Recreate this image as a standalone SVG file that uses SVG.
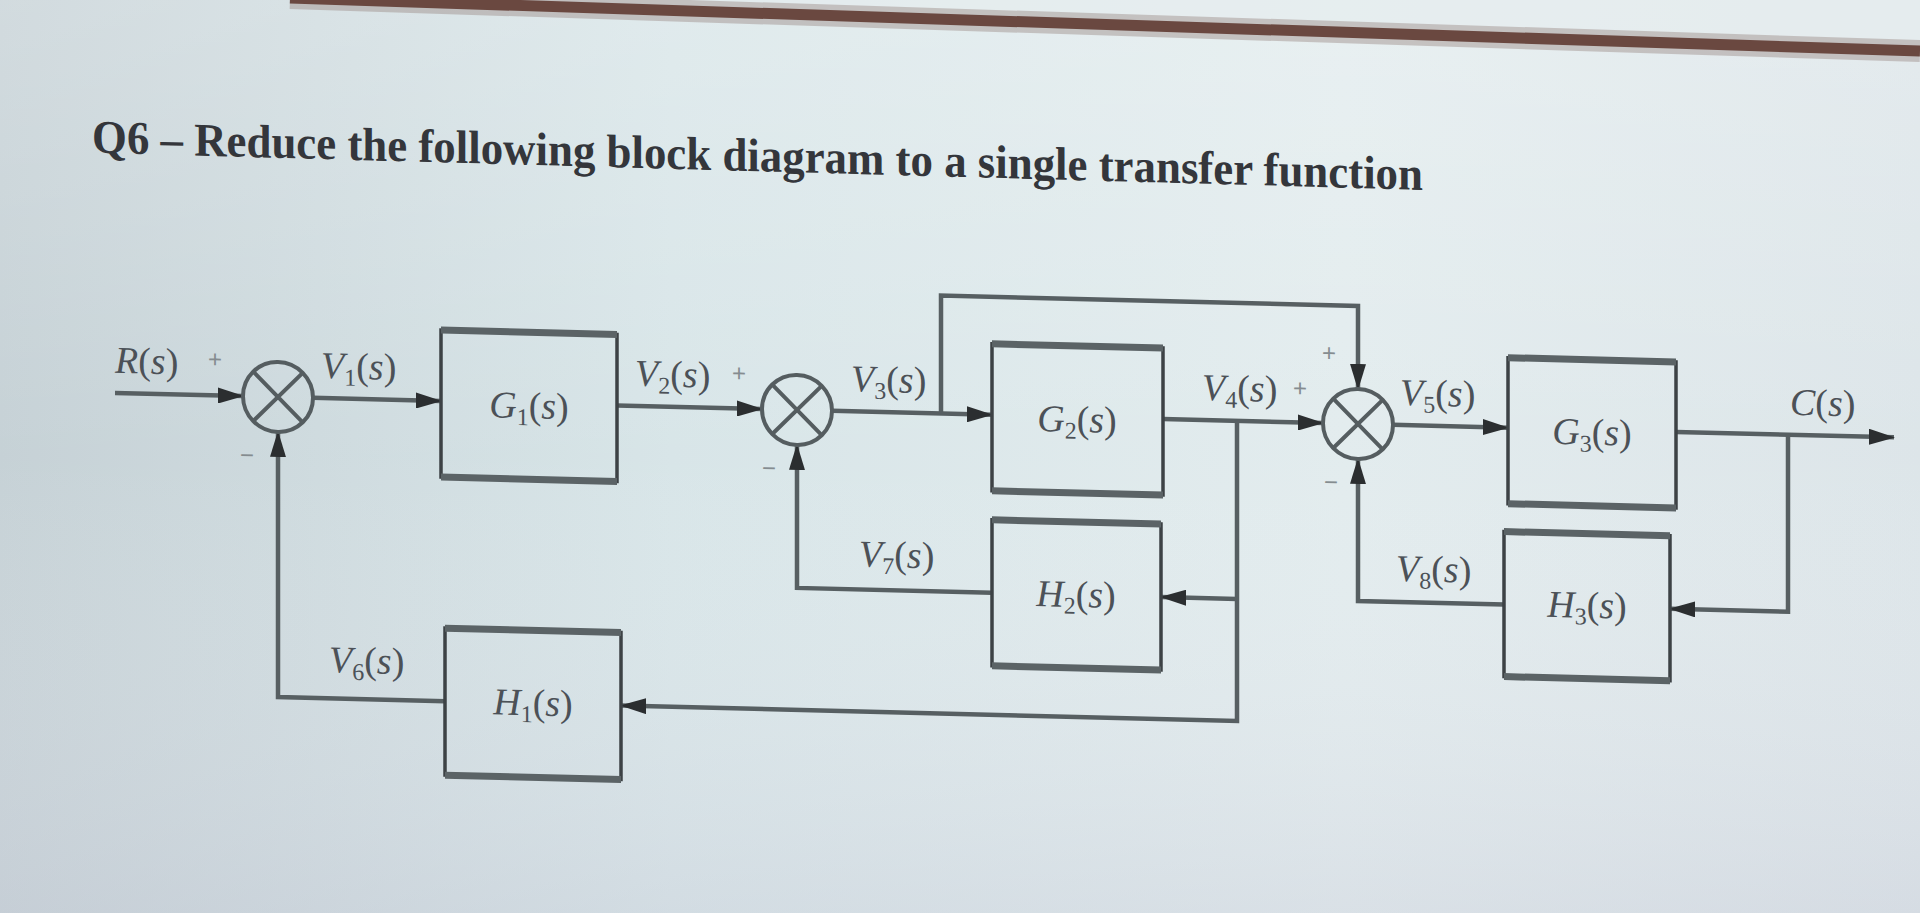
<svg xmlns="http://www.w3.org/2000/svg" width="1920" height="913" viewBox="0 0 1920 913">
<defs>
<linearGradient id="bgH" x1="0" y1="0" x2="1" y2="0">
<stop offset="0" stop-color="#c3cfd4"/>
<stop offset="0.35" stop-color="#d6e4e7"/>
<stop offset="0.7" stop-color="#e1ebed"/>
<stop offset="1" stop-color="#dbe4e8"/>
</linearGradient>
<linearGradient id="bgV" x1="0" y1="0" x2="0" y2="1">
<stop offset="0" stop-color="#ffffff" stop-opacity="0.25"/>
<stop offset="0.5" stop-color="#ffffff" stop-opacity="0.05"/>
<stop offset="1" stop-color="#cbcdda" stop-opacity="0.35"/>
</linearGradient>
<marker id="arr" markerUnits="userSpaceOnUse" markerWidth="26" markerHeight="16" refX="25" refY="8" orient="auto">
<path d="M0,0 L26,8 L0,16 Z" fill="#2b2e30"/>
</marker>
<style>
.conn{fill:none;stroke:#575f62;stroke-width:4.5;stroke-linejoin:miter}
.box{fill:none;stroke:#3d4245;stroke-width:3.5}
.edge{stroke:#5b6366;stroke-width:7}
.sum{fill:none;stroke:#555d60;stroke-width:4}
.lbl{font-family:"Liberation Serif","Times New Roman",serif;font-size:38px;fill:#4c5157}
.it{font-style:italic}
.sub{font-size:24px}
.sign{font-family:"Liberation Sans",Arial,sans-serif;font-size:24px;fill:#858c90;text-anchor:middle}
.title{font-family:"Liberation Serif","Times New Roman",serif;font-weight:bold;font-size:47px;fill:#34363b}
</style>
</defs>
<rect x="0" y="0" width="1920" height="913" fill="url(#bgH)"/>
<rect x="0" y="0" width="1920" height="913" fill="url(#bgV)"/>
<path d="M290,-8 L1920,44 L1920,-8 Z" fill="#e6ecee" opacity="0.7"/>
<line x1="290" y1="-2" x2="1920" y2="51" stroke="#9c8c88" stroke-width="22" opacity="0.45"/>
<line x1="290" y1="-2" x2="1920" y2="51" stroke="#6a4840" stroke-width="11"/>

<g id="title" transform="matrix(1 0.028 0 1 0 0)">
<text class="title" x="92" y="150" textLength="1331" lengthAdjust="spacingAndGlyphs">Q6 – Reduce the following block diagram to a single transfer function</text>
</g>

<g id="diagram" transform="matrix(1 0.025 0 1 0 0)">
<g id="connectors">
<path class="conn" d="M115,390 H243" marker-end="url(#arr)"/>
<path class="conn" d="M313,390 H441" marker-end="url(#arr)"/>
<path class="conn" d="M617,390 H762" marker-end="url(#arr)"/>
<path class="conn" d="M832,390 H992" marker-end="url(#arr)"/>
<path class="conn" d="M1163,390 H1323" marker-end="url(#arr)"/>
<path class="conn" d="M1393,390 H1508" marker-end="url(#arr)"/>
<path class="conn" d="M1676,390 H1894" marker-end="url(#arr)"/>
<path class="conn" d="M941,390 V272 H1358 V355" marker-end="url(#arr)"/>
<path class="conn" d="M1237,390 V690 H621" marker-end="url(#arr)"/>
<path class="conn" d="M445,690 H278 V425" marker-end="url(#arr)"/>
<path class="conn" d="M1237,568 H1161" marker-end="url(#arr)"/>
<path class="conn" d="M992,568 H797 V425" marker-end="url(#arr)"/>
<path class="conn" d="M1788,390 V567 H1670" marker-end="url(#arr)"/>
<path class="conn" d="M1504,567 H1358 V425" marker-end="url(#arr)"/>
</g>

<g id="sum1">
<circle class="sum" cx="278" cy="390" r="35"/>
<path class="sum" d="M253.3,365.3 L302.7,414.7 M302.7,365.3 L253.3,414.7"/>
</g>
<g id="sum2">
<circle class="sum" cx="797" cy="390" r="35"/>
<path class="sum" d="M772.3,365.3 L821.7,414.7 M821.7,365.3 L772.3,414.7"/>
</g>
<g id="sum3">
<circle class="sum" cx="1358" cy="390" r="35"/>
<path class="sum" d="M1333.3,365.3 L1382.7,414.7 M1382.7,365.3 L1333.3,414.7"/>
</g>

<g id="G1">
<rect class="box" x="441" y="319" width="176" height="147"/>
<line class="edge" x1="441" y1="319" x2="617" y2="319"/><line class="edge" x1="441" y1="466" x2="617" y2="466"/>
<text class="lbl" x="529" y="405" text-anchor="middle"><tspan class="it">G</tspan><tspan class="sub" dy="7">1</tspan><tspan dy="-7">(</tspan><tspan class="it">s</tspan>)</text>
</g>
<g id="G2">
<rect class="box" x="992" y="319" width="171" height="147"/>
<line class="edge" x1="992" y1="319" x2="1163" y2="319"/><line class="edge" x1="992" y1="466" x2="1163" y2="466"/>
<text class="lbl" x="1077" y="405" text-anchor="middle"><tspan class="it">G</tspan><tspan class="sub" dy="7">2</tspan><tspan dy="-7">(</tspan><tspan class="it">s</tspan>)</text>
</g>
<g id="G3">
<rect class="box" x="1508" y="320" width="168" height="146"/>
<line class="edge" x1="1508" y1="320" x2="1676" y2="320"/><line class="edge" x1="1508" y1="466" x2="1676" y2="466"/>
<text class="lbl" x="1592" y="405" text-anchor="middle"><tspan class="it">G</tspan><tspan class="sub" dy="7">3</tspan><tspan dy="-7">(</tspan><tspan class="it">s</tspan>)</text>
</g>
<g id="H1">
<rect class="box" x="445" y="617" width="176" height="147"/>
<line class="edge" x1="445" y1="617" x2="621" y2="617"/><line class="edge" x1="445" y1="764" x2="621" y2="764"/>
<text class="lbl" x="533" y="702" text-anchor="middle"><tspan class="it">H</tspan><tspan class="sub" dy="7">1</tspan><tspan dy="-7">(</tspan><tspan class="it">s</tspan>)</text>
</g>
<g id="H2">
<rect class="box" x="992" y="495" width="169" height="146"/>
<line class="edge" x1="992" y1="495" x2="1161" y2="495"/><line class="edge" x1="992" y1="641" x2="1161" y2="641"/>
<text class="lbl" x="1076" y="580" text-anchor="middle"><tspan class="it">H</tspan><tspan class="sub" dy="7">2</tspan><tspan dy="-7">(</tspan><tspan class="it">s</tspan>)</text>
</g>
<g id="H3">
<rect class="box" x="1504" y="494" width="166" height="145"/>
<line class="edge" x1="1504" y1="494" x2="1670" y2="494"/><line class="edge" x1="1504" y1="639" x2="1670" y2="639"/>
<text class="lbl" x="1587" y="578" text-anchor="middle"><tspan class="it">H</tspan><tspan class="sub" dy="7">3</tspan><tspan dy="-7">(</tspan><tspan class="it">s</tspan>)</text>
</g>

<g id="labels">
<text class="lbl" x="115" y="370"><tspan class="it">R</tspan>(<tspan class="it">s</tspan>)</text>
<text class="lbl" x="321" y="370"><tspan class="it">V</tspan><tspan class="sub" dy="7">1</tspan><tspan dy="-7">(</tspan><tspan class="it">s</tspan>)</text>
<text class="lbl" x="635" y="370"><tspan class="it">V</tspan><tspan class="sub" dy="7">2</tspan><tspan dy="-7">(</tspan><tspan class="it">s</tspan>)</text>
<text class="lbl" x="851" y="370"><tspan class="it">V</tspan><tspan class="sub" dy="7">3</tspan><tspan dy="-7">(</tspan><tspan class="it">s</tspan>)</text>
<text class="lbl" x="1202" y="370"><tspan class="it">V</tspan><tspan class="sub" dy="7">4</tspan><tspan dy="-7">(</tspan><tspan class="it">s</tspan>)</text>
<text class="lbl" x="1400" y="370"><tspan class="it">V</tspan><tspan class="sub" dy="7">5</tspan><tspan dy="-7">(</tspan><tspan class="it">s</tspan>)</text>
<text class="lbl" x="1790" y="370"><tspan class="it">C</tspan>(<tspan class="it">s</tspan>)</text>
<text class="lbl" x="329" y="664"><tspan class="it">V</tspan><tspan class="sub" dy="7">6</tspan><tspan dy="-7">(</tspan><tspan class="it">s</tspan>)</text>
<text class="lbl" x="859" y="545"><tspan class="it">V</tspan><tspan class="sub" dy="7">7</tspan><tspan dy="-7">(</tspan><tspan class="it">s</tspan>)</text>
<text class="lbl" x="1396" y="546"><tspan class="it">V</tspan><tspan class="sub" dy="7">8</tspan><tspan dy="-7">(</tspan><tspan class="it">s</tspan>)</text>
<text class="sign" x="215" y="362">+</text>
<text class="sign" x="739" y="363">+</text>
<text class="sign" x="1300" y="364">+</text>
<text class="sign" x="1329" y="328">+</text>
<text class="sign" x="247" y="457">−</text>
<text class="sign" x="769" y="457">−</text>
<text class="sign" x="1331" y="457">−</text>
</g>
</g>
</svg>
